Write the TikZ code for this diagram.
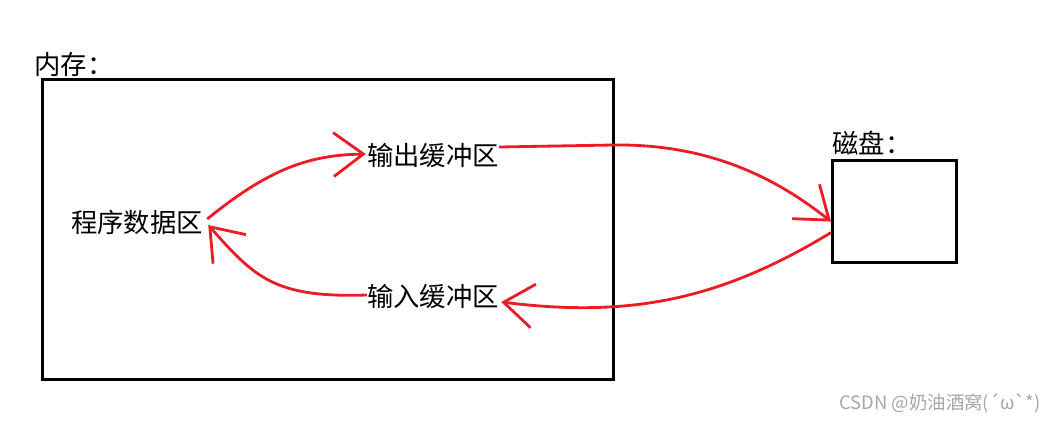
\documentclass[tikz,border=0pt]{standalone}
\usepackage{fontspec}
\setmainfont{Noto Sans CJK SC}
\newfontfamily\plainfont[Mapping=]{Noto Sans CJK SC}
\usetikzlibrary{arrows.meta}
\definecolor{penred}{RGB}{237,28,36}

\begin{document}
\begin{tikzpicture}
      [x = 0.02cm, y = -0.02cm,
      box/.style= {
         draw,
         line width = 1.8pt,
         inner sep = 0pt
      },
      word/.style= {
         inner sep = 0pt,
         font = \fontsize{15pt}{18pt}\selectfont
      },
      flow/.style= {
         draw = penred,
         line width = 1.6pt,
         -{Straight Barb[length = 17pt, width = 25pt]}
      }]

      \useasboundingbox (0, 0) rectangle (1063, 423);

      \node[box, minimum width = 571*0.02cm, minimum height = 300*0.02cm,
            anchor = north west] (mem) at (41, 78) {};
      \node[box, minimum width = 124*0.02cm, minimum height = 102*0.02cm,
            anchor = north west] (disk) at (831, 159) {};

      \node[word, anchor = south west] (memlabel) at (34, 77) {内存：};
      \node[word, anchor = south west] (disklabel) at (832, 156) {磁盘：};

      \node[word] (prog) at (137, 222) {程序数据区};
      \node[word] (outbuf) at (433, 155) {输出缓冲区};
      \node[word] (inbuf) at (433, 296) {输入缓冲区};

      \coordinate (diskin) at ([yshift = -0.2cm] disk.west);
      \coordinate (diskout) at ([yshift = -0.42cm] disk.west);

      \draw[flow] ([shift = {(0.08cm, 0.06cm)}] prog.east)
         .. controls (270, 168) and (310, 155) .. ([shift = {(-0.02cm, 0.02cm)}] outbuf.west);
      \draw[flow] ([yshift = 0.16cm] outbuf.east) -- (613, 145)
         .. controls (690, 144) and (760, 165) .. (diskin);
      \draw[flow] (diskout)
         .. controls (720, 300) and (630, 318) .. ([shift = {(0.04cm, -0.12cm)}] inbuf.east);
      \draw[flow] ([yshift = 0.02cm] inbuf.west)
         .. controls (275, 298) and (255, 278) .. ([shift = {(0.1cm, -0.06cm)}] prog.east);

      \node[anchor = east, text = black!35, font = \plainfont\fontsize{10.5pt}{12pt}\selectfont]
         (mark) at (1047, 403) {CSDN @奶油酒窝(´ω`*)};

   \end{tikzpicture}
\end{document}
